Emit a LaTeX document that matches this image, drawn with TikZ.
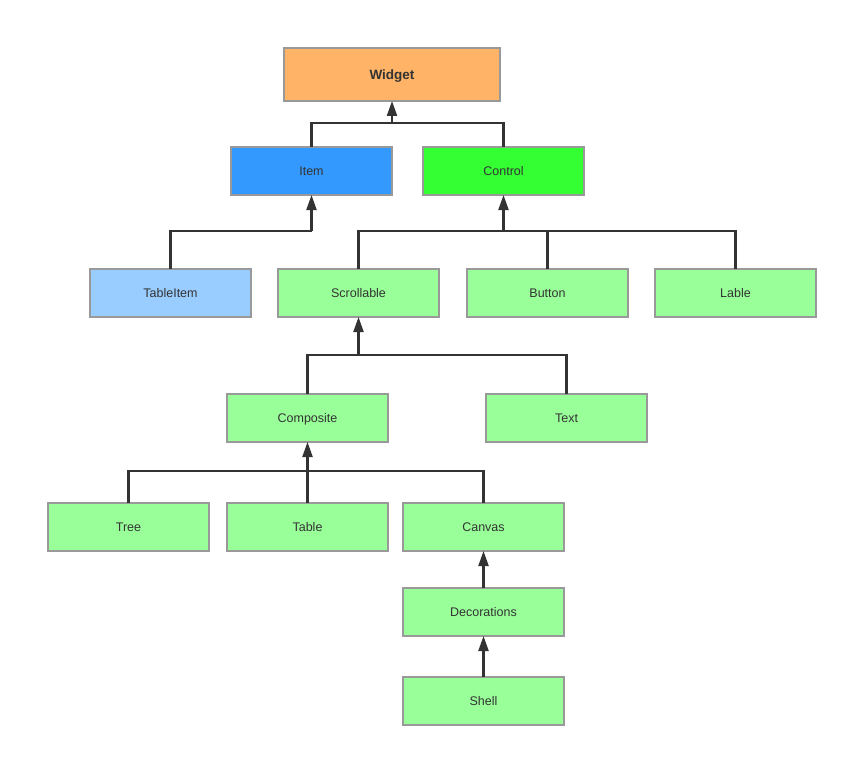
\documentclass[tikz,border=0pt]{standalone}
\usepackage{fontspec}
\setmainfont{Liberation Sans}
\usetikzlibrary{arrows.meta}
\definecolor{cwidget}{HTML}{FFB366}
\definecolor{citem}{HTML}{3399FF}
\definecolor{ccontrol}{HTML}{33FF33}
\definecolor{ctitem}{HTML}{99CCFF}
\definecolor{cgreen}{HTML}{99FF99}
\definecolor{cborder}{HTML}{999999}
\definecolor{cline}{HTML}{333333}
\tikzset{
  box/.style={draw=cborder, line width=1.8pt, minimum width=161pt, minimum height=48pt, inner sep=0pt, outer sep=0pt, text=cline, font=\fontsize{12.5}{14}\selectfont, text height=9pt, text depth=0pt},
  gbox/.style={box, fill=cgreen},
  conn/.style={draw=cline, line width=2.2pt},
  inh/.style={conn, -{Triangle[length=15pt,width=10pt]}}
}
\begin{document}
\begin{tikzpicture}[x=1pt,y=-1pt]
\useasboundingbox[fill=white] (0,0) rectangle (848,757);
\node[box, fill=cwidget, minimum width=216pt, minimum height=53pt, font=\fontsize{13.5}{16}\selectfont\bfseries, text height=10pt] (widget) at (392,74.5) {Widget};
\node[box, fill=citem] (item) at (311.5,171) {Item};
\node[box, fill=ccontrol] (control) at (503.5,171) {Control};
\node[box, fill=ctitem] (tableitem) at (170.5,293) {TableItem};
\node[gbox] (scrollable) at (358.5,293) {Scrollable};
\node[gbox] (button) at (547.5,293) {Button};
\node[gbox] (lable) at (735.5,293) {Lable};
\node[gbox] (composite) at (307.5,418) {Composite};
\node[gbox] (text) at (566.5,418) {Text};
\node[gbox] (tree) at (128.5,527) {Tree};
\node[gbox] (table) at (307.5,527) {Table};
\node[gbox] (canvas) at (483.5,527) {Canvas};
\node[gbox] (decorations) at (483.5,612) {Decorations};
\node[gbox] (shell) at (483.5,701) {Shell};
% junctions
\coordinate (j1) at (392,123);
\coordinate (j2) at (311.5,231);
\coordinate (j3) at (503.5,231);
\coordinate (j4) at (358.5,355);
\coordinate (j5) at (307.5,471);
% Widget
\draw[conn] (item.north) |- (j1) -| (control.north);
\draw[inh] (j1) -- (widget.south);
% Item
\draw[conn] (tableitem.north) |- (j2);
\draw[inh] (j2) -- (item.south);
% Control
\draw[conn] (scrollable.north) |- (j3) -| (lable.north);
\draw[conn] (button.north) -- (button.north |- j3);
\draw[inh] (j3) -- (control.south);
% Scrollable
\draw[conn] (composite.north) |- (j4) -| (text.north);
\draw[inh] (j4) -- (scrollable.south);
% Composite
\draw[conn] (tree.north) |- (j5) -| (canvas.north);
\draw[conn] (table.north) -- (j5);
\draw[inh] (j5) -- (composite.south);
% Canvas chain
\draw[inh] (decorations.north) -- (canvas.south);
\draw[inh] (shell.north) -- (decorations.south);
\end{tikzpicture}
\end{document}
